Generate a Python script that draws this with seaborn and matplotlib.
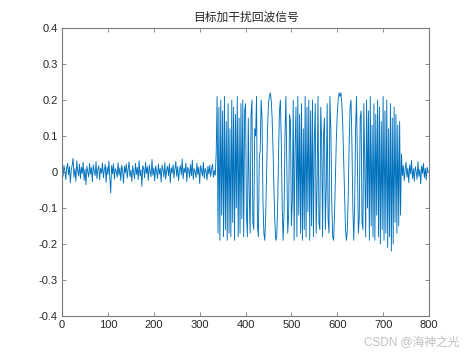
import numpy as np
import pandas as pd
import matplotlib
matplotlib.use('Agg')
import matplotlib.pyplot as plt
import seaborn as sns

# 采样点（每隔2个采样取一个点）
sample_idx = np.arange(0, 800, 2)

x_ticks = [0, 100, 200, 300, 400, 500, 600, 700, 800]
y_ticks = [-0.4, -0.3, -0.2, -0.1, 0, 0.1, 0.2, 0.3, 0.4]
y_labels = ['-0.4', '-0.3', '-0.2', '-0.1', '0', '0.1', '0.2', '0.3', '0.4']

# 脉冲前的噪声 (0..334)
noise_pre = [
    0.005, -0.012, 0.018, 0.002, -0.021, 0.011, 0.024, -0.008, 0.015, -0.030,
    0.006, 0.019, 0.038, -0.015, 0.009, -0.026, 0.031, 0.004, -0.011, 0.022,
    -0.018, 0.013, -0.004, 0.027, -0.023, 0.008, -0.035, 0.016, 0.001, -0.014,
    0.024, -0.006, 0.012, -0.027, 0.020, 0.003, -0.010, 0.029, -0.019, 0.007,
    0.017, -0.022, 0.010, -0.003, 0.025, -0.016, 0.006, 0.021, -0.029, 0.014,
    -0.007, 0.030, -0.012, -0.058, 0.018, -0.005, 0.023, -0.020, 0.009, 0.002,
    -0.015, 0.026, -0.009, 0.012, -0.024, 0.019, 0.004, -0.031, 0.016, -0.002,
    0.022, -0.017, 0.008, 0.028, -0.013, 0.005, -0.026, 0.017, 0.000, -0.019,
    0.024, -0.007, 0.013, -0.021, 0.031, -0.011, 0.006, -0.040, 0.018, 0.009,
    -0.016, 0.027, -0.004, 0.014, -0.023, 0.020, 0.001, -0.013, 0.035, -0.009,
    0.011, -0.025, 0.017, 0.003, -0.018, 0.022, -0.006, 0.010, -0.028, 0.019,
    0.007, -0.014, 0.026, -0.020, 0.005, 0.016, -0.010, 0.023, -0.030, 0.012,
    -0.003, 0.020, -0.017, 0.008, 0.029, -0.012, 0.015, -0.024, 0.004, 0.018,
    -0.008, 0.036, -0.019, 0.011, -0.002, 0.025, -0.027, 0.013, 0.006, -0.015,
    0.021, -0.010, 0.033, -0.021, 0.009, 0.002, -0.016, 0.024, -0.007, 0.014,
    -0.032, 0.018, 0.005, -0.011, 0.027, -0.018, 0.010, 0.003, -0.022, 0.016,
    -0.006, 0.019, -0.013, 0.008, 0.022, -0.015, 0.004, -0.009,
]

# 目标+干扰回波 (336..740)
pulse = [
    # 密集段
    0.05, 0.21, -0.17, 0.18, -0.19, 0.20, -0.12, 0.17, -0.18, 0.21,
    -0.16, 0.14, -0.19, 0.19, -0.17, 0.12, -0.18, 0.20, -0.14, 0.18,
    -0.19, 0.16, -0.10, 0.21, -0.18, 0.15, -0.17, 0.19, -0.13, 0.20,
    -0.18, 0.17,
    # 频率变低
    0.19, -0.12, -0.18, 0.15, -0.06, -0.17, 0.16, 0.20, -0.14, -0.16,
    0.12, 0.10, 0.21, -0.15, -0.18, 0.04, 0.06, 0.20, 0.15, -0.08,
    # 第一个拱
    -0.17, -0.19, -0.12, 0.00, 0.12, 0.19, 0.21, 0.22, 0.20, 0.15,
    0.06, -0.05, -0.14, -0.19, -0.18, -0.10,
    # 频率变高
    0.05, 0.17, 0.20, 0.08, -0.10, -0.19, -0.11, 0.10, 0.21, 0.03,
    -0.17, -0.12, 0.16, 0.14, -0.15,
    # 密集段
    -0.08, 0.20, -0.19, 0.07, 0.18, -0.18, 0.21, -0.12, 0.16, -0.17,
    0.19, -0.19, 0.12, -0.16, 0.21, -0.18, 0.18, -0.11, 0.20, -0.19,
    0.17, -0.15, 0.20, -0.18, 0.08, 0.19, -0.17, -0.04, 0.21, -0.14,
    -0.16, 0.18, 0.09,
    # 频率变低
    -0.18, 0.10, 0.15, -0.16, -0.04, 0.19, -0.13, -0.17, 0.21, 0.12,
    -0.08, -0.18, -0.19, -0.12, -0.02,
    # 第二个拱
    0.09, 0.16, 0.20, 0.22, 0.21, 0.22, 0.19, 0.13, 0.03, -0.08,
    -0.16, -0.19, -0.16, -0.06, 0.08, 0.18,
    # 频率变高
    0.20, 0.08, -0.10, -0.19, -0.09, 0.12, 0.21, 0.02, -0.17, -0.13,
    0.15, 0.17, -0.14, -0.16, 0.19, 0.02,
    # 密集段
    -0.18, 0.20, -0.10, 0.17, -0.19, 0.21, -0.15, 0.13, -0.18, 0.19,
    -0.19, 0.16, -0.12, 0.20, -0.18, 0.18, -0.20, 0.14, -0.16, 0.21,
    -0.19, 0.17, -0.17, 0.20, -0.21, 0.12, -0.18, 0.19, -0.22, 0.15,
    -0.20, 0.18, -0.14, 0.16, -0.17, 0.13, -0.15, 0.14, -0.12, 0.05,
]

# 脉冲后的噪声 (742..798)
noise_post = [
    -0.010, 0.018, -0.024, 0.006, 0.027, -0.015, 0.011, -0.030, 0.020, -0.005,
    0.032, -0.018, 0.009, -0.026, 0.015, 0.002, -0.020, 0.028, -0.012, 0.007,
    -0.033, 0.017, -0.004, 0.024, -0.016, 0.010, -0.022, 0.013, 0.001,
]

df = pd.DataFrame({'n': sample_idx, 'amp': noise_pre + pulse + noise_post})

sns.set_theme(style='white')
plt.rcParams['font.family'] = ['Liberation Sans', 'Noto Sans CJK SC', 'DejaVu Sans']
plt.rcParams['axes.unicode_minus'] = False

fig = plt.figure(figsize=(4.74, 3.55), dpi=100)
ax = fig.add_axes([0.131, 0.110, 0.774, 0.811])
sns.lineplot(data=df, x='n', y='amp', ax=ax, color='#0072BD', linewidth=0.65)

ax.set_xlim(0, 800)
ax.set_ylim(-0.4, 0.4)
ax.set_xticks(x_ticks)
ax.set_yticks(y_ticks)
ax.set_yticklabels(y_labels)
ax.set_xlabel('')
ax.set_ylabel('')

for s in ax.spines.values():
    s.set_color('#7a7a7a')
    s.set_linewidth(0.8)
ax.tick_params(direction='in', length=3, width=0.6, colors='#7a7a7a',
               labelcolor='#262626', labelsize=8, top=True, right=True,
               bottom=True, left=True, pad=3)

ax.set_title('目标加干扰回波信号', fontsize=8.5, color='#262626',
             family=['Noto Sans CJK SC', 'DejaVu Sans'], pad=5)

fig.text(0.97, 0.035, 'CSDN @海神之光', ha='right', va='center', fontsize=8.5,
         color='#c0c0c0', family=['Liberation Sans', 'Noto Sans CJK SC'])

fig.savefig('out.png', dpi=100)
